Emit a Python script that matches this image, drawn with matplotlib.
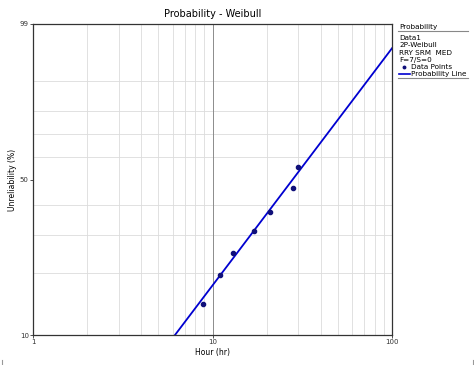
import numpy as np
import matplotlib
matplotlib.use('Agg')
import matplotlib.pyplot as plt

# data points (hours, unreliability %)
hours = [8.89, 10.97, 12.96, 17.03, 20.99, 28.09, 30.06]
unrel = [14.3, 19.6, 24.8, 31.2, 37.5, 46.5, 55.5]

# ends of the fitted probability line
line_hours = [6.18, 100.0]
line_unrel = [10.0, 96.76]

y_ticks = [10, 50, 99]
y_grid = [20, 30, 40, 60, 70, 80, 90]
x_ticks = [1, 10, 100]
x_grid = [2, 3, 4, 5, 6, 7, 8, 9, 20, 30, 40, 50, 60, 70, 80, 90]

legend_lines = ['Data1', '2P-Weibull', 'RRY SRM  MED', 'F=7/S=0']


def fwd(p):
    p = np.clip(np.asarray(p, dtype=float), 1e-6, 100 - 1e-6)
    return np.log(-np.log(1 - p / 100.0))


def inv(t):
    return 100.0 * (1 - np.exp(-np.exp(t)))


fig = plt.figure(figsize=(4.74, 3.65), dpi=100)
ax = fig.add_axes([33 / 474, 30 / 365, 359 / 474, 311 / 365])
ax.set_xscale('log')
ax.set_yscale('function', functions=(fwd, inv))
ax.set_xlim(1, 100)
ax.set_ylim(10, 99)

for g in x_grid:
    ax.axvline(g, color='#dcdcdc', lw=0.6, zorder=0)
for g in y_grid:
    ax.axhline(g, color='#dcdcdc', lw=0.6, zorder=0)
ax.axvline(10, color='#8c8c8c', lw=0.7, zorder=0)

ax.plot(line_hours, line_unrel, color='#0000d0', lw=1.3, zorder=2)
ax.scatter(hours, unrel, s=9, color='#10107a', zorder=3)

ax.set_xticks(x_ticks)
ax.set_xticklabels([str(v) for v in x_ticks])
ax.set_xticks([], minor=True)
ax.set_yticks(y_ticks)
ax.set_yticklabels([str(v) for v in y_ticks])
ax.set_yticks([], minor=True)
ax.tick_params(labelsize=5, length=2, width=0.6, pad=1, colors='#333333')
for s in ax.spines.values():
    s.set_linewidth(0.9)
    s.set_color('#333333')

ax.set_title('Probability - Weibull', fontsize=7, pad=5)
ax.set_xlabel('Hour (hr)', fontsize=5.5, labelpad=2)
ax.set_ylabel('Unreliability (%)', fontsize=5.5, labelpad=2)

# legend block on the right
fs = 5.2
fig.text(399 / 474, 1 - 27 / 365, 'Probability', fontsize=fs, va='center')
fig.add_artist(plt.Line2D([398 / 474, 468 / 474], [1 - 31 / 365, 1 - 31 / 365],
                          color='#888888', lw=0.8))
ypos = 38
for t in legend_lines:
    fig.text(399 / 474, 1 - ypos / 365, t, fontsize=fs, va='center')
    ypos += 7.3
fig.text(411 / 474, 1 - 67 / 365, 'Data Points', fontsize=fs, va='center')
fig.add_artist(plt.Line2D([404 / 474], [1 - 66.5 / 365], marker='o', ms=1.8,
                          color='#10107a'))
fig.text(411 / 474, 1 - 74 / 365, 'Probability Line', fontsize=fs, va='center')
fig.add_artist(plt.Line2D([399 / 474, 410 / 474], [1 - 74 / 365, 1 - 74 / 365],
                          color='#0000d0', lw=1.2))
fig.add_artist(plt.Line2D([398 / 474, 468 / 474], [1 - 78 / 365, 1 - 78 / 365],
                          color='#888888', lw=0.8))

# small corner marks at the bottom of the image
for xc in (1.5 / 474, 472.5 / 474):
    fig.add_artist(plt.Line2D([xc, xc], [0, 5 / 365], color='#999999', lw=0.8))

fig.savefig('out.png', dpi=100)
